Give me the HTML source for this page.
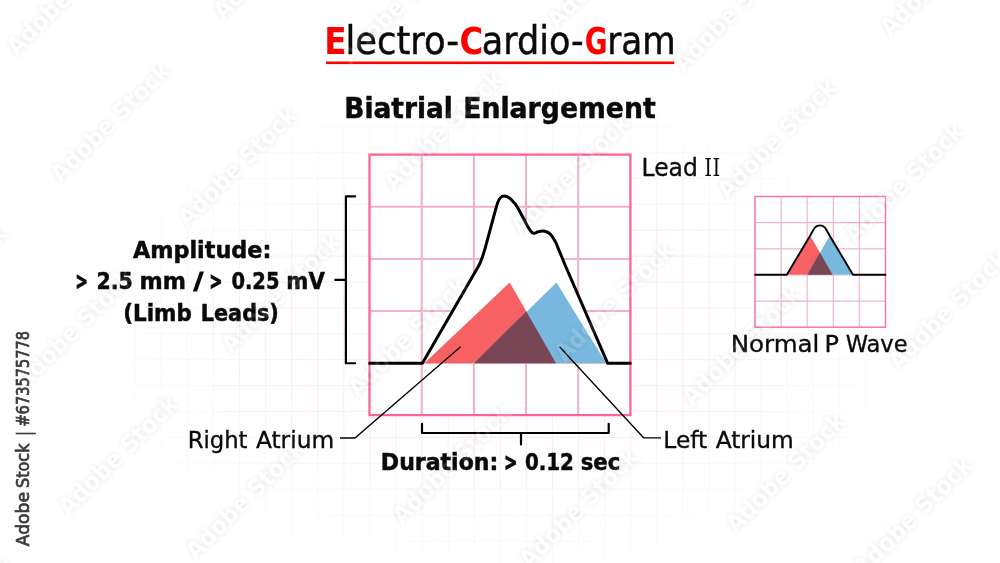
<!DOCTYPE html>
<html lang="en">
<head>
<meta charset="utf-8">
<title>Electro-Cardio-Gram – Biatrial Enlargement</title>
<style>
  html, body { margin: 0; padding: 0; background: #ffffff; }
  body { width: 1000px; height: 563px; overflow: hidden; position: relative;
         font-family: "Liberation Sans", "DejaVu Sans", sans-serif; }
  svg { position: absolute; left: 0; top: 0; display: block; }
  text { font-family: "DejaVu Sans Condensed", "DejaVu Sans", "Liberation Sans", sans-serif; fill: #0a0a0a; }
  .b { font-weight: bold; }
  .r { fill: #fe0000; }
  .t { stroke: #0a0a0a; stroke-width: 0.45px; }
  .s { fill: #3a3a3a; stroke: #3a3a3a; stroke-width: 0.7px; }
  .n { stroke: #0a0a0a; stroke-width: 0.3px; }
  .k { stroke: #0a0a0a; stroke-width: 0.45px; }
  .k2 { stroke: #0a0a0a; stroke-width: 1.1px; stroke-linejoin: miter; }
  .m { font-family: "DejaVu Serif", "Liberation Serif", serif; }
</style>
</head>
<body>
<svg width="1000" height="563" viewBox="0 0 1000 563">
  <defs>
    <pattern id="bggrid" x="4.3" y="22.5" width="26.08" height="25.9" patternUnits="userSpaceOnUse">
      <path d="M0.5 0V26M0 0.5H27" fill="none" stroke="#f9cfd0" stroke-width="1"/>
    </pattern>
    <radialGradient id="fade" cx="500" cy="330" r="1" gradientUnits="userSpaceOnUse"
                    gradientTransform="translate(500 330) scale(470 292) translate(-500 -330)">
      <stop offset="0" stop-color="#fff" stop-opacity="1"/>
      <stop offset="0.45" stop-color="#fff" stop-opacity="0.9"/>
      <stop offset="0.8" stop-color="#fff" stop-opacity="0.25"/>
      <stop offset="0.95" stop-color="#fff" stop-opacity="0"/>
    </radialGradient>
    <mask id="fademask" maskUnits="userSpaceOnUse" x="0" y="0" width="1000" height="563">
      <rect x="0" y="0" width="1000" height="563" fill="url(#fade)"/>
    </mask>
    <filter id="wmf" filterUnits="userSpaceOnUse" x="-420" y="0" width="1160" height="1130" color-interpolation-filters="sRGB">
      <feGaussianBlur in="SourceAlpha" stdDeviation="2.7" result="blur"/>
      <feComposite in="blur" in2="SourceAlpha" operator="out" result="halo"/>
      <feComponentTransfer in="halo" result="halo2"><feFuncA type="linear" slope="0.11"/></feComponentTransfer>
      <feFlood flood-color="#ffffff" flood-opacity="0.13" result="w"/>
      <feComposite in="w" in2="SourceAlpha" operator="in" result="white"/>
      <feMerge><feMergeNode in="halo2"/><feMergeNode in="white"/></feMerge>
    </filter>
  </defs>

  <!-- faint background graph paper -->
  <rect id="paper" x="0" y="0" width="1000" height="563" fill="url(#bggrid)" mask="url(#fademask)" opacity="0.43"/>

  <!-- ================= main ECG box ================= -->
  <g id="mainbox">
    <rect x="369.5" y="154.6" width="260.9" height="260.5" fill="#ffffff"/>
    <g fill="none" stroke="#efb3c3" stroke-width="2">
      <path d="M421.7 154.6V415.1M473.9 154.6V415.1M526 154.6V415.1M578.2 154.6V415.1"/>
      <path d="M369.5 206.8H630.4M369.5 258.9H630.4M369.5 311H630.4M369.5 363.1H630.4"/>
    </g>
    <rect x="369.5" y="154.6" width="260.9" height="260.5" fill="none" stroke="#f9668f" stroke-width="2.3"/>
  </g>

  <!-- atrial components -->
  <g id="atria">
    <path d="M422.4 363.3 L478.6 266 C483.5 257.5 487 241 489.3 232.8 L496.2 207.4 C497.6 202 499.2 197.5 502.2 196.3 C505 195.3 508.5 197 510.8 199.2 C514.5 202.5 516.5 205.5 518.6 209.3 L526.4 224 C528.5 228 529.5 229.5 530.7 231.2 C531.8 232.8 532.8 233.5 533.9 233.3 C535.5 233 536.5 232.3 538.2 231.8 C540.5 231 543 230.7 545 231.2 C547.5 231.8 549.3 232.8 550.9 234.7 C553 237.2 554.5 239.8 555.8 242.5 L565.5 266 L607.7 363.3 Z" fill="#ffffff"/>
    <polygon points="424.3,363.3 509.7,282.6 556,363.3" fill="#f86164"/>
    <polygon points="474,363.3 556.4,282.6 606.3,363.3" fill="#78b7de"/>
    <polygon points="474,363.3 526.3,311.4 556,363.3" fill="#794655"/>
  </g>

  <!-- P wave trace -->
  <path id="trace" fill="none" stroke="#000" stroke-width="3" stroke-linejoin="round" stroke-linecap="round"
        d="M369.6 363.3 H422.4 L478.6 266 C483.5 257.5 487 241 489.3 232.8 L496.2 207.4 C497.6 202 499.2 197.5 502.2 196.3 C505 195.3 508.5 197 510.8 199.2 C514.5 202.5 516.5 205.5 518.6 209.3 L526.4 224 C528.5 228 529.5 229.5 530.7 231.2 C531.8 232.8 532.8 233.5 533.9 233.3 C535.5 233 536.5 232.3 538.2 231.8 C540.5 231 543 230.7 545 231.2 C547.5 231.8 549.3 232.8 550.9 234.7 C553 237.2 554.5 239.8 555.8 242.5 L565.5 266 L607.7 363.3 H630.3"/>

  <!-- amplitude bracket -->
  <g fill="none" stroke="#000" stroke-width="2.2" stroke-linecap="round" stroke-linejoin="round">
    <path d="M355.1 196.45H345.9V363.25H355.1"/>
    <path d="M335.3 279.9H345.9"/>
    <path d="M422 423.8V433H608.7V423.8"/>
    <path d="M521 433V444.5"/>
  </g>

  <!-- leader lines -->
  <g fill="none" stroke="#000" stroke-width="1.3">
    <path d="M340 438H355L460.6 346.7"/>
    <path d="M661 437.8H643.6L559.5 346.7"/>
  </g>

  <!-- ================= mini box ================= -->
  <g id="minibox">
    <rect x="755" y="196.5" width="130.5" height="130.7" fill="#ffffff"/>
    <g fill="none" stroke="#f2b3c6" stroke-width="1.15">
      <path d="M781.1 196.5V327.2M807.2 196.5V327.2M833.3 196.5V327.2M859.4 196.5V327.2"/>
      <path d="M755 222.6H885.5M755 248.8H885.5M755 274.8H885.5M755 301.1H885.5"/>
    </g>
    <rect x="755" y="196.5" width="130.5" height="130.7" fill="none" stroke="#f9749b" stroke-width="1.45"/>
    <path d="M786.8 274.7L810.4 235.2C813.3 230.4 814.6 225.4 819.9 225.4C825.2 225.4 826.5 230.4 829.4 235.2L853 274.7Z" fill="#ffffff"/>
    <polygon points="787.3,274.7 810.5,236.2 832.6,274.7" fill="#f86164"/>
    <polygon points="807.4,274.7 829.5,236.2 852.5,274.7" fill="#78b7de"/>
    <polygon points="807.4,274.7 819.9,252.4 832.6,274.7" fill="#794655"/>
    <path fill="none" stroke="#000" stroke-width="1.9" stroke-linejoin="round" stroke-linecap="round"
          d="M755.1 274.7H786.8L810.4 235.2C813.3 230.4 814.6 225.4 819.9 225.4C825.2 225.4 826.5 230.4 829.4 235.2L853 274.7H885.4"/>
  </g>

  <!-- ================= text ================= -->
<g id="labels">
  <!--TEXT-START-->
  <text id="t-title"><tspan class="b r" x="324.27" y="54.3" font-size="37.26" textLength="22.39" lengthAdjust="spacingAndGlyphs">E</tspan><tspan class="t" x="345.46" y="54.3" font-size="38.75" textLength="113.54" lengthAdjust="spacingAndGlyphs">lectro-</tspan><tspan class="b r" x="459.44" y="54.3" font-size="37.26" textLength="23.70" lengthAdjust="spacingAndGlyphs">C</tspan><tspan class="t" x="481.79" y="54.3" font-size="38.75" textLength="102.00" lengthAdjust="spacingAndGlyphs">ardio-</tspan><tspan class="b r" x="584.77" y="54.3" font-size="37.26" textLength="22.88" lengthAdjust="spacingAndGlyphs">G</tspan><tspan class="t" x="607.25" y="54.3" font-size="38.75" textLength="68.48" lengthAdjust="spacingAndGlyphs">ram</tspan></text>
  <text id="t-subtitle"><tspan class="b k" x="344.26" y="117.5" font-size="28.77" textLength="108.65" lengthAdjust="spacingAndGlyphs">Biatrial</tspan> <tspan class="b k" x="463.24" y="117.5" font-size="28.77" textLength="192.45" lengthAdjust="spacingAndGlyphs">Enlargement</tspan></text>
  <text id="t-lead"><tspan class="n" x="641.63" y="176.4" font-size="23.97" textLength="56.21" lengthAdjust="spacingAndGlyphs">Lead</tspan> <tspan class="m" x="704.17" y="176.4" font-size="23.97" textLength="7.81" lengthAdjust="spacingAndGlyphs">I</tspan><tspan class="m" x="712.57" y="176.4" font-size="23.97" textLength="7.81" lengthAdjust="spacingAndGlyphs">I</tspan></text>
  <text id="t-amp1" class="b k" x="133.00" y="257.5" font-size="23.01" textLength="138.35" lengthAdjust="spacingAndGlyphs">Amplitude:</text>
  <text id="t-amp2"><tspan class="b k2" x="75.49" y="289.1" font-size="23.01" textLength="12.26" lengthAdjust="spacingAndGlyphs">&gt;</tspan> <tspan class="b k" x="96.41" y="289.1" font-size="23.01" textLength="36.38" lengthAdjust="spacingAndGlyphs">2.5</tspan> <tspan class="b k" x="139.53" y="289.1" font-size="23.01" textLength="46.35" lengthAdjust="spacingAndGlyphs">mm</tspan> <tspan class="b k2" x="193.70" y="289.1" font-size="23.01" textLength="9.35" lengthAdjust="spacingAndGlyphs">/</tspan> <tspan class="b k2" x="209.53" y="289.1" font-size="23.01" textLength="12.76" lengthAdjust="spacingAndGlyphs">&gt;</tspan> <tspan class="b k" x="231.40" y="289.1" font-size="23.01" textLength="48.12" lengthAdjust="spacingAndGlyphs">0.25</tspan> <tspan class="b k" x="286.37" y="289.1" font-size="23.01" textLength="38.54" lengthAdjust="spacingAndGlyphs">mV</tspan></text>
  <text id="t-amp3"><tspan class="b k" x="123.16" y="320.9" font-size="23.01" textLength="68.68" lengthAdjust="spacingAndGlyphs">(Limb</tspan> <tspan class="b k" x="200.80" y="320.9" font-size="23.01" textLength="78.07" lengthAdjust="spacingAndGlyphs">Leads)</tspan></text>
  <text id="t-duration"><tspan class="b k" x="380.83" y="469.9" font-size="23.01" textLength="117.49" lengthAdjust="spacingAndGlyphs">Duration:</tspan> <tspan class="b k2" x="504.20" y="469.9" font-size="23.01" textLength="13.00" lengthAdjust="spacingAndGlyphs">&gt;</tspan> <tspan class="b k" x="524.90" y="469.9" font-size="23.01" textLength="49.04" lengthAdjust="spacingAndGlyphs">0.12</tspan> <tspan class="b k" x="580.78" y="469.9" font-size="23.01" textLength="39.52" lengthAdjust="spacingAndGlyphs">sec</tspan></text>
  <text id="t-right"><tspan class="n" x="187.76" y="448.4" font-size="23.56" textLength="59.77" lengthAdjust="spacingAndGlyphs">Right</tspan> <tspan class="n" x="256.00" y="448.4" font-size="23.56" textLength="78.10" lengthAdjust="spacingAndGlyphs">Atrium</tspan></text>
  <text id="t-left"><tspan class="n" x="663.39" y="448.2" font-size="23.56" textLength="43.84" lengthAdjust="spacingAndGlyphs">Left</tspan> <tspan class="n" x="715.70" y="448.2" font-size="23.56" textLength="78.10" lengthAdjust="spacingAndGlyphs">Atrium</tspan></text>
  <text id="t-normal"><tspan class="n" x="730.71" y="352.3" font-size="23.84" textLength="88.73" lengthAdjust="spacingAndGlyphs">Normal</tspan> <tspan class="n" x="824.46" y="352.3" font-size="23.84" textLength="14.45" lengthAdjust="spacingAndGlyphs">P</tspan> <tspan class="n" x="845.70" y="352.3" font-size="23.84" textLength="61.90" lengthAdjust="spacingAndGlyphs">Wave</tspan></text>
  <g transform="translate(29.4 546.5) rotate(-90)">
    <text id="t-stockid"><tspan class="s" x="0.30" y="0.0" font-size="17.81" textLength="54.22" lengthAdjust="spacingAndGlyphs">Adobe</tspan> <tspan class="s" x="58.60" y="0.0" font-size="17.81" textLength="44.37" lengthAdjust="spacingAndGlyphs">Stock</tspan> <tspan class="s" x="110.70" y="2.0" font-size="19.86" textLength="4.52" lengthAdjust="spacingAndGlyphs">|</tspan> <tspan class="s" x="119.89" y="0.0" font-size="17.81" textLength="95.78" lengthAdjust="spacingAndGlyphs">#673575778</tspan></text>
  </g>
  <!--TEXT-END-->
  </g>
  <rect id="underline" x="326" y="61.5" width="348.2" height="2.6" fill="#fe0000"/>

  <!-- stock watermark overlay -->
  <g id="watermark" transform="rotate(-45)" filter="url(#wmf)" style="fill:#000">
    <!--WM-START-->
    <text class="b" x="-28.50" y="51.8" font-size="24.11" textLength="157.40" lengthAdjust="spacingAndGlyphs">Adobe Stock</text>
    <text class="b" x="-317.20" y="172.7" font-size="24.11" textLength="157.40" lengthAdjust="spacingAndGlyphs">Adobe Stock</text>
    <text class="b" x="-87.20" y="172.7" font-size="24.11" textLength="157.40" lengthAdjust="spacingAndGlyphs">Adobe Stock</text>
    <text class="b" x="142.80" y="172.7" font-size="24.11" textLength="157.40" lengthAdjust="spacingAndGlyphs">Adobe Stock</text>
    <text class="b" x="-258.50" y="293.6" font-size="24.11" textLength="157.40" lengthAdjust="spacingAndGlyphs">Adobe Stock</text>
    <text class="b" x="-28.50" y="293.6" font-size="24.11" textLength="157.40" lengthAdjust="spacingAndGlyphs">Adobe Stock</text>
    <text class="b" x="201.50" y="293.6" font-size="24.11" textLength="157.40" lengthAdjust="spacingAndGlyphs">Adobe Stock</text>
    <text class="b" x="-547.20" y="414.5" font-size="24.11" textLength="157.40" lengthAdjust="spacingAndGlyphs">Adobe Stock</text>
    <text class="b" x="-317.20" y="414.5" font-size="24.11" textLength="157.40" lengthAdjust="spacingAndGlyphs">Adobe Stock</text>
    <text class="b" x="-87.20" y="414.5" font-size="24.11" textLength="157.40" lengthAdjust="spacingAndGlyphs">Adobe Stock</text>
    <text class="b" x="142.80" y="414.5" font-size="24.11" textLength="157.40" lengthAdjust="spacingAndGlyphs">Adobe Stock</text>
    <text class="b" x="372.80" y="414.5" font-size="24.11" textLength="157.40" lengthAdjust="spacingAndGlyphs">Adobe Stock</text>
    <text class="b" x="-258.50" y="535.4" font-size="24.11" textLength="157.40" lengthAdjust="spacingAndGlyphs">Adobe Stock</text>
    <text class="b" x="-28.50" y="535.4" font-size="24.11" textLength="157.40" lengthAdjust="spacingAndGlyphs">Adobe Stock</text>
    <text class="b" x="201.50" y="535.4" font-size="24.11" textLength="157.40" lengthAdjust="spacingAndGlyphs">Adobe Stock</text>
    <text class="b" x="431.50" y="535.4" font-size="24.11" textLength="157.40" lengthAdjust="spacingAndGlyphs">Adobe Stock</text>
    <text class="b" x="-317.20" y="656.3" font-size="24.11" textLength="157.40" lengthAdjust="spacingAndGlyphs">Adobe Stock</text>
    <text class="b" x="-87.20" y="656.3" font-size="24.11" textLength="157.40" lengthAdjust="spacingAndGlyphs">Adobe Stock</text>
    <text class="b" x="142.80" y="656.3" font-size="24.11" textLength="157.40" lengthAdjust="spacingAndGlyphs">Adobe Stock</text>
    <text class="b" x="372.80" y="656.3" font-size="24.11" textLength="157.40" lengthAdjust="spacingAndGlyphs">Adobe Stock</text>
    <text class="b" x="602.80" y="656.3" font-size="24.11" textLength="157.40" lengthAdjust="spacingAndGlyphs">Adobe Stock</text>
    <text class="b" x="-28.50" y="777.2" font-size="24.11" textLength="157.40" lengthAdjust="spacingAndGlyphs">Adobe Stock</text>
    <text class="b" x="201.50" y="777.2" font-size="24.11" textLength="157.40" lengthAdjust="spacingAndGlyphs">Adobe Stock</text>
    <text class="b" x="431.50" y="777.2" font-size="24.11" textLength="157.40" lengthAdjust="spacingAndGlyphs">Adobe Stock</text>
    <text class="b" x="142.80" y="898.1" font-size="24.11" textLength="157.40" lengthAdjust="spacingAndGlyphs">Adobe Stock</text>
    <text class="b" x="372.80" y="898.1" font-size="24.11" textLength="157.40" lengthAdjust="spacingAndGlyphs">Adobe Stock</text>
    <text class="b" x="201.50" y="1019.0" font-size="24.11" textLength="157.40" lengthAdjust="spacingAndGlyphs">Adobe Stock</text>
    <!--WM-END-->
  </g>
</svg>
</body>
</html>
